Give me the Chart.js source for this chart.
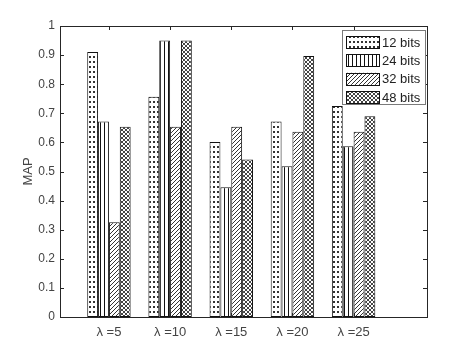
<!DOCTYPE html>
<html>
<head>
<meta charset="utf-8">
<script src="https://cdn.jsdelivr.net/npm/chart.js@4.4.1/dist/chart.umd.min.js"></script>
<style>
  html, body { margin: 0; padding: 0; background: #ffffff; }
  #wrap { width: 474px; height: 357px; position: relative; }
</style>
</head>
<body>
<div id="wrap"><canvas id="c" width="474" height="357"></canvas></div>
<script>
const categories = ['\u03bb =5', '\u03bb =10', '\u03bb =15', '\u03bb =20', '\u03bb =25'];
const seriesNames = ['12 bits', '24 bits', '32 bits', '48 bits'];
const bits12 = [0.911, 0.757, 0.601, 0.672, 0.725];
const bits24 = [0.672, 0.950, 0.446, 0.518, 0.587];
const bits32 = [0.326, 0.654, 0.654, 0.637, 0.637];
const bits48 = [0.654, 0.950, 0.541, 0.897, 0.690];
const yTicks = [0, 0.1, 0.2, 0.3, 0.4, 0.5, 0.6, 0.7, 0.8, 0.9, 1];

const AXIS = '#262626';
const TEXT = '#444444';
const FONT = "'Liberation Sans', Arial, Helvetica, sans-serif";

function makePattern(kind) {
  const t = document.createElement('canvas');
  const w = kind === 'dots' ? 4 : 4;
  const h = kind === 'dots' ? 5 : 4;
  t.width = w; t.height = h;
  const g = t.getContext('2d');
  g.fillStyle = '#ffffff';
  g.fillRect(0, 0, w, h);
  g.fillStyle = '#111111';
  if (kind === 'dots') {
    g.fillStyle = '#333333';
    g.fillRect(1, 1, 2, 2);
  } else if (kind === 'vlines') {
    g.fillRect(0, 0, 1, h);
  } else if (kind === 'diag') {
    g.fillStyle = '#333333';
    for (let i = 0; i < w; i++) g.fillRect(i, h - 1 - i, 1, 1);
  } else if (kind === 'cross') {
    g.fillStyle = '#444444';
    for (let i = 0; i < w; i++) { g.fillRect(i, i, 1, 1); g.fillRect(i, h - 1 - i, 1, 1); }
  }
  return document.getElementById('c').getContext('2d').createPattern(t, 'repeat');
}

const patterns = [makePattern('dots'), makePattern('vlines'), makePattern('diag'), makePattern('cross')];
const allSeries = [bits12, bits24, bits32, bits48];

const datasets = allSeries.map((arr, k) => ({
  label: seriesNames[k],
  data: arr.map((v, i) => ({ x: i + 1, y: v })),
  backgroundColor: patterns[k],
  borderColor: '#111111',
  borderWidth: 1,
  borderSkipped: false,
  categoryPercentage: 0.71,
  barPercentage: 1.0
}));

const boxPlugin = {
  id: 'boxPlugin',
  afterDatasetsDraw(chart) {
    const ctx = chart.ctx;
    const a = chart.chartArea;
    const xs = chart.scales.x, ys = chart.scales.y;
    ctx.save();
    ctx.strokeStyle = AXIS;
    ctx.lineWidth = 1;
    ctx.strokeRect(Math.round(a.left) + 0.5, Math.round(a.top) + 0.5, Math.round(a.right - a.left), Math.round(a.bottom - a.top));
    ctx.beginPath();
    yTicks.forEach(v => {
      const y = Math.round(ys.getPixelForValue(v)) + 0.5;
      ctx.moveTo(a.left, y); ctx.lineTo(a.left + 4, y);
      ctx.moveTo(a.right, y); ctx.lineTo(a.right - 4, y);
    });
    categories.forEach((c, i) => {
      const x = Math.round(xs.getPixelForValue(i + 1)) + 0.5;
      ctx.moveTo(x, a.bottom); ctx.lineTo(x, a.bottom - 4);
      ctx.moveTo(x, a.top); ctx.lineTo(x, a.top + 4);
    });
    ctx.stroke();

    // legend
    const lx = a.right - 85, ly = a.top + 4, lw = 83, lh = 74;
    ctx.fillStyle = '#ffffff';
    ctx.fillRect(lx, ly, lw, lh);
    ctx.strokeStyle = '#7a7a7a';
    ctx.strokeRect(lx + 0.5, ly + 0.5, lw, lh);
    ctx.font = '13px ' + FONT;
    ctx.textBaseline = 'middle';
    ctx.textAlign = 'left';
    chart.data.datasets.forEach((ds, k) => {
      const cy = ly + 12 + k * 18.4;
      ctx.fillStyle = ds.backgroundColor;
      ctx.fillRect(lx + 4, cy - 6, 33, 12);
      ctx.strokeStyle = '#111111';
      ctx.strokeRect(lx + 4.5, Math.round(cy - 6) + 0.5, 33, 12);
      ctx.fillStyle = '#222222';
      ctx.fillText(ds.label, lx + 40, cy + 1);
    });
    ctx.restore();
  }
};

new Chart(document.getElementById('c'), {
  type: 'bar',
  data: { datasets },
  plugins: [boxPlugin],
  options: {
    responsive: false,
    animation: false,
    layout: { padding: { left: 0, top: 26, right: 47, bottom: 0 } },
    plugins: { legend: { display: false }, tooltip: { enabled: false } },
    scales: {
      x: {
        type: 'linear',
        min: 0.2,
        max: 6.2,
        offset: false,
        grid: { display: false, drawTicks: false },
        border: { display: false },
        afterBuildTicks: s => { s.ticks = categories.map((c, i) => ({ value: i + 1 })); },
        afterFit: s => { s.height = 40; },
        ticks: {
          autoSkip: false,
          maxRotation: 0,
          padding: 8,
          color: TEXT,
          font: { family: FONT, size: 13 },
          callback: v => categories[v - 1] ?? ''
        }
      },
      y: {
        min: 0,
        max: 1,
        grid: { display: false, drawTicks: false },
        border: { display: false },
        afterBuildTicks: s => { s.ticks = yTicks.map(v => ({ value: v })); },
        afterFit: s => { s.width = 60; },
        title: {
          display: true,
          text: 'MAP',
          color: TEXT,
          font: { family: FONT, size: 13 },
          padding: { top: 21, bottom: 0 }
        },
        ticks: {
          padding: 5,
          color: TEXT,
          font: { family: FONT, size: 12 },
          callback: v => String(Number(v.toFixed(1)))
        }
      }
    }
  }
});
</script>
</body>
</html>
